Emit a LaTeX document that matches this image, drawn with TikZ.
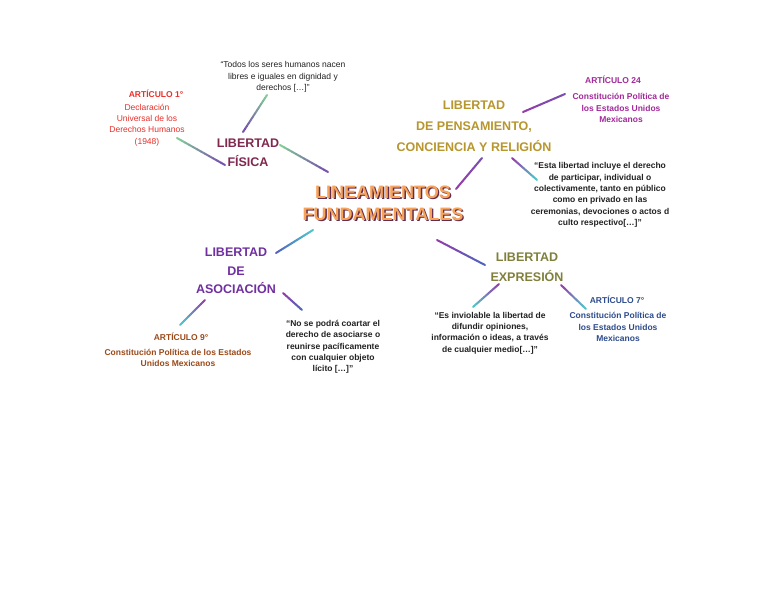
\documentclass[tikz,border=0pt]{standalone}
\usepackage{fontspec}
\setmainfont{Liberation Sans}
\usetikzlibrary{calc}

\definecolor{cred}{RGB}{232,48,42}
\definecolor{cmaroon}{RGB}{128,40,80}
\definecolor{cgold}{RGB}{184,150,46}
\definecolor{cmagenta}{RGB}{163,41,155}
\definecolor{cpurple}{RGB}{112,48,160}
\definecolor{cbrown}{RGB}{156,74,26}
\definecolor{colive}{RGB}{128,128,60}
\definecolor{cnavy}{RGB}{46,76,140}
\definecolor{ctext}{RGB}{34,34,34}
\definecolor{corange}{RGB}{247,163,92}
\definecolor{cshadow}{RGB}{100,45,75}
\definecolor{lgreen}{RGB}{130,205,150}
\definecolor{lteal}{RGB}{80,195,200}
\definecolor{lblue}{RGB}{80,100,190}
\definecolor{lviolet}{RGB}{120,80,175}
\definecolor{lpurple}{RGB}{150,60,170}

\tikzset{
  title/.style={align=center,inner sep=1pt,font=\fontsize{12.5}{19}\selectfont\bfseries},
  small/.style={align=center,inner sep=1pt,font=\fontsize{8.5}{11.3}\selectfont\bfseries},
  smallreg/.style={align=center,inner sep=1pt,font=\fontsize{8.5}{11.3}\selectfont},
  linkline/.style={line width=2pt,line cap=round}
}

% connector drawn in short pieces, colour going from #3 to #4
\newcommand{\gradlink}[4]{%
  \path #1 coordinate (ls) #2 coordinate (le);
  \foreach \k in {0,...,11}{
    \pgfmathtruncatemacro\pct{round(100*\k/11)}
    \pgfmathsetmacro\ta{\k/12}
    \pgfmathsetmacro\tb{(\k+1)/12}
    \draw[linkline,draw=#4!\pct!#3] ($(ls)!\ta!(le)$) -- ($(ls)!\tb!(le)$);
  }}

\begin{document}
\begin{tikzpicture}[x=1pt,y=-1pt]
\useasboundingbox[fill=white] (0,0) rectangle (768,594);

      % centre
      \node[title,text=cshadow,font=\fontsize{18}{22}\selectfont\bfseries] (censh) at (384.4,204.4) {LINEAMIENTOS\\FUNDAMENTALES};
      \node[title,text=corange,font=\fontsize{18}{22}\selectfont\bfseries] (cen) at (383,203) {LINEAMIENTOS\\FUNDAMENTALES};

      % branches
      \node[title,text=cmaroon] (fis) at (248,153) {LIBERTAD\\FÍSICA};
      \node[title,text=cgold,font=\fontsize{12.5}{21}\selectfont\bfseries] (pen) at (474,126) {LIBERTAD\\DE PENSAMIENTO,\\CONCIENCIA Y RELIGIÓN};
      \node[title,text=cpurple,font=\fontsize{12.5}{18.5}\selectfont\bfseries] (aso) at (236,271) {LIBERTAD\\DE\\ASOCIACIÓN};
      \node[title,text=colive,font=\fontsize{12.5}{20}\selectfont\bfseries] (exp) at (527,267) {LIBERTAD\\EXPRESIÓN};

      % leaves
      \begin{scope}[every node/.style={small}]
        \node[smallreg,text=ctext] (q1) at (283,77) {“Todos los seres humanos nacen\\libres e iguales en dignidad y\\derechos […]”};
        \node[text=cred] (a1h) at (156,94) {ARTÍCULO 1°};
        \node[smallreg,text=cred] (a1) at (147,125) {Declaración\\Universal de los\\Derechos Humanos\\(1948)};
        \node[text=cmagenta] (a24h) at (613,80) {ARTÍCULO 24};
        \node[text=cmagenta] (a24) at (621,108) {Constitución Política de\\los Estados Unidos\\Mexicanos};
        \node[text=ctext] (q24) at (600,195) {“Esta libertad incluye el derecho\\de participar, individual o\\colectivamente, tanto en público\\como en privado en las\\ceremonias, devociones o actos d\\culto respectivo[…]”};
        \node[text=cbrown] (a9h) at (181,337) {ARTÍCULO 9°};
        \node[text=cbrown] (a9) at (178,358) {Constitución Política de los Estados\\Unidos Mexicanos};
        \node[text=ctext] (q9) at (333,347) {“No se podrá coartar el\\derecho de asociarse o\\reunirse pacíficamente\\con cualquier objeto\\lícito […]”};
        \node[text=ctext] (q7) at (490,333) {“Es inviolable la libertad de\\difundir opiniones,\\información o ideas, a través\\de cualquier medio[…]”};
        \node[text=cnavy] (a7h) at (617,300) {ARTÍCULO 7°};
        \node[text=cnavy] (a7) at (618,327) {Constitución Política de\\los Estados Unidos\\Mexicanos};
      \end{scope}

      % connectors
      \gradlink{($(q1)+(-16,18)$)}{($(fis)+(-5,-21)$)}{lgreen}{lviolet}
      \gradlink{($(a1)+(30,13)$)}{($(fis)+(-23,12)$)}{lgreen}{lviolet}
      \gradlink{($(fis)+(32,-8)$)}{($(cen)+(-55,-31)$)}{lgreen}{lviolet}
      \gradlink{($(pen)+(49,-14)$)}{($(a24)+(-56,-14)$)}{lpurple}{lviolet}
      \gradlink{($(pen)+(8,32)$)}{($(cen)+(73,-14)$)}{lviolet}{lpurple}
      \gradlink{($(pen)+(38,32)$)}{($(q24)+(-63,-15)$)}{lpurple}{lteal}
      \gradlink{($(aso)+(40,-18)$)}{($(cen)+(-70,27)$)}{lblue}{lteal}
      \gradlink{($(aso)+(-31,29)$)}{($(a9h)+(-1,-12)$)}{lpurple}{lteal}
      \gradlink{($(aso)+(47,22)$)}{($(q9)+(-31,-37)$)}{lpurple}{lblue}
      \gradlink{($(cen)+(54,37)$)}{($(exp)+(-42,-2)$)}{lpurple}{lblue}
      \gradlink{($(exp)+(-28,17)$)}{($(q7)+(-17,-26)$)}{lpurple}{lteal}
      \gradlink{($(exp)+(34,18)$)}{($(a7h)+(-31,9)$)}{lpurple}{lteal}

\end{tikzpicture}
\end{document}
